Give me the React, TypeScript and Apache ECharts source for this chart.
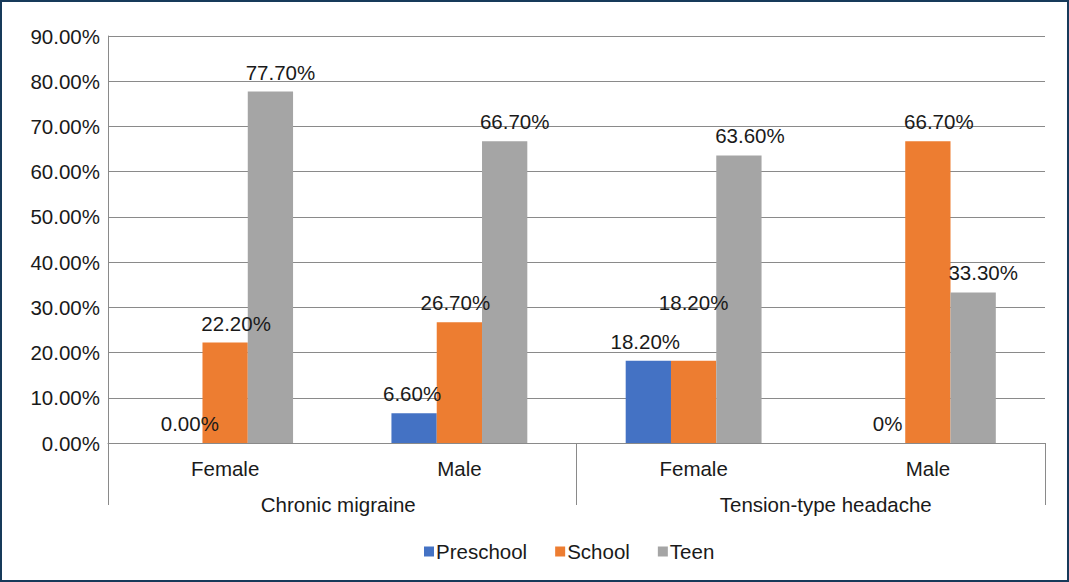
import * as echarts from 'echarts';
import { useEffect, useRef } from 'react';

// sub-categories (gender) and their headache groups
const genders = ['Female', 'Male', 'Female', 'Male'];
const groups = ['Chronic migraine', 'Tension-type headache'];
const seriesNames = ['Preschool', 'School', 'Teen'];

// values in %
const preschool = [0, 6.6, 18.2, 0];
const school = [22.2, 26.7, 18.2, 66.7];
const teen = [77.7, 66.7, 63.6, 33.3];

// data label texts as printed on the chart
const preschoolLabels = ['0.00%', '6.60%', '18.20%', '0%'];
const schoolLabels = ['22.20%', '26.70%', '18.20%', '66.70%'];
const teenLabels = ['77.70%', '66.70%', '63.60%', '33.30%'];

// label nudges (the original has a few hand-moved labels)
const preschoolOffsets = [[10, 0], [-2, 0], [-3, 0], [5, 0]];
const schoolOffsets = [[11, 0], [-4, 0], [0, -39], [11, 0]];
const teenOffsets = [[10, 0], [10, 0], [11, 0], [10, 0]];

const colors = ['#4472C4', '#ED7D31', '#A5A5A5'];
const FONT = "'Liberation Sans', Arial, sans-serif";
const TEXT = '#1a1a1a';
const LINE = '#8a8a8a';
const FS = 20.5;

const buildItems = (values: number[], labels: string[], offsets: number[][]) =>
  values.map((v, i) => ({
    value: v,
    label: { formatter: labels[i], offset: offsets[i] },
  }));

const App = () => {
  const chartRef = useRef<HTMLDivElement>(null);

  useEffect(() => {
    if (!chartRef.current) return;
    const chart = echarts.init(chartRef.current, undefined, { renderer: 'svg' });

    const values = [preschool, school, teen];
    const labels = [preschoolLabels, schoolLabels, teenLabels];
    const offsets = [preschoolOffsets, schoolOffsets, teenOffsets];

    chart.setOption({
      animation: false,
      backgroundColor: '#fff',
      color: colors,
      textStyle: { fontFamily: FONT, color: TEXT },
      grid: {
        left: 108,
        right: 24,
        top: 36,
        bottom: 139,
        containLabel: false,
        outerBoundsMode: 'none',
      },
      legend: {
        data: seriesNames,
        left: 419,
        top: 536,
        icon: 'rect',
        itemWidth: 10,
        itemHeight: 10,
        itemGap: 28,
        textStyle: { fontSize: FS, color: TEXT, fontFamily: FONT, padding: [0, 0, 0, -3] },
      },
      xAxis: [
        {
          type: 'category',
          data: genders,
          position: 'bottom',
          axisLine: { show: true, lineStyle: { color: LINE, width: 1 } },
          axisTick: { show: false },
          axisLabel: { fontSize: FS, color: TEXT, margin: 15, fontFamily: FONT },
        },
        {
          type: 'category',
          data: groups,
          position: 'bottom',
          axisLine: { show: false },
          axisTick: { show: true, length: 62, lineStyle: { color: LINE, width: 1 } },
          axisLabel: {
            fontSize: FS,
            color: TEXT,
            margin: 51,
            fontFamily: FONT,
            formatter: (v: string, i: number) => `{g${i}|${v}}`,
            rich: {
              g0: { fontSize: FS, color: TEXT, fontFamily: FONT, padding: [0, 8, 0, 0] },
              g1: { fontSize: FS, color: TEXT, fontFamily: FONT, padding: [0, 0, 0, 30] },
            },
          },
          splitLine: { show: false },
        },
      ],
      yAxis: {
        type: 'value',
        min: 0,
        max: 90,
        interval: 10,
        axisLine: { show: true, lineStyle: { color: LINE, width: 1 } },
        axisTick: { show: false },
        splitLine: { show: true, lineStyle: { color: LINE, width: 1 } },
        axisLabel: {
          fontSize: FS,
          color: TEXT,
          margin: 8,
          fontFamily: FONT,
          formatter: (v: number) => v.toFixed(2) + '%',
        },
      },
      series: seriesNames.map((name, k) => ({
        name,
        type: 'bar',
        xAxisIndex: 0,
        barGap: '0%',
        barCategoryGap: '42%',
        data: buildItems(values[k], labels[k], offsets[k]),
        label: {
          show: true,
          position: 'top',
          distance: 9,
          fontSize: FS,
          color: TEXT,
          fontFamily: FONT,
        },
      })),
      graphic: [
        {
          type: 'rect',
          shape: { x: 1, y: 1, width: 1067, height: 580 },
          style: { fill: 'none', stroke: '#173a5a', lineWidth: 2 },
          silent: true,
        },
      ],
    });

    return () => {
      chart.dispose();
    };
  }, []);

  return (
    <div
      ref={chartRef}
      style={{ position: 'fixed', left: 0, top: 0, width: 1069, height: 582 }}
    ></div>
  );
};

export default App;
